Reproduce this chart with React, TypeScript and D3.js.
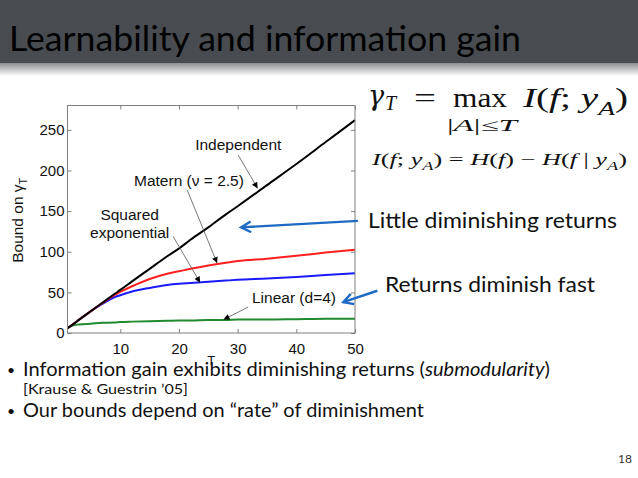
import React, { useRef, useEffect } from 'react';
import * as d3 from 'd3';

// sample points along T (number of rounds)
const T_STEPS = [1, 2, 3, 5, 7, 9, 10, 12, 15, 18, 20, 22, 25, 28, 30, 35, 40, 45, 50];

// bound on gamma_T for each kernel
const INDEPENDENT = [6, 11, 16.5, 27, 37.5, 48, 53, 63.5, 79, 94.5, 104, 115, 130, 146, 156, 182, 208, 235, 262];
const MATERN = [6, 11, 16.5, 27, 37, 46.5, 50.5, 57.5, 66.5, 73, 76, 79, 83, 86.5, 88.5, 91.5, 95, 99, 102.5];
const SQ_EXP = [6, 11, 16.5, 27, 36, 44, 46.5, 51, 55.5, 59, 60.5, 61.5, 63, 64.5, 65.5, 67, 69, 71.5, 73.5];
const LINEAR = [6, 9.5, 10.5, 11.5, 12.5, 13, 13.5, 14, 14.5, 15, 15.5, 15.5, 16, 16, 16.5, 16.5, 17, 17.5, 17.5];

const X_TICKS = [10, 20, 30, 40, 50];
const Y_TICKS = [0, 50, 100, 150, 200, 250];

const SERIES = [
    { name: 'Linear (d=4)', values: LINEAR, color: '#1f8a2e' },
    { name: 'Squared exponential', values: SQ_EXP, color: '#1a1aff' },
    { name: 'Matern (ν = 2.5)', values: MATERN, color: '#ff1f1f' },
    { name: 'Independent', values: INDEPENDENT, color: '#000000' }
];

// text arrows inside the axes, in data units
const ANNOTATIONS = [
    { lines: ['Independent'], at: [30.1, 225], from: [30.1, 219], to: [33.4, 178] },
    { lines: ['Matern (ν = 2.5)'], at: [21.7, 181], from: [21.4, 176], to: [26.5, 86] },
    { lines: ['Squared', 'exponential'], at: [11.6, 139], from: [19, 119], to: [23.6, 62] },
    { lines: ['Linear (d=4)'], at: [39.6, 37], from: [31.8, 32], to: [27.6, 16.5] }
];

const SANS = '"Liberation Sans", Arial, sans-serif';
const SLIDE = 'Lato, "Open Sans", sans-serif';
const SERIF = '"Liberation Serif", "DejaVu Serif", serif';

// parts: [text, flags] where flags has i (italic) and/or s (subscript)
const richText = (g, x, y, size, parts, length?) => {
    const t = g.append('text')
        .attr('x', x)
        .attr('y', y)
        .attr('font-family', SERIF)
        .attr('font-size', size)
        .attr('fill', '#111');
    let shifted = false;
    parts.forEach(([str, flags = '']) => {
        const s = t.append('tspan').text(str);
        if (flags.includes('i')) s.attr('font-style', 'italic');
        const sub = flags.includes('s');
        if (sub) s.attr('font-size', size * 0.7);
        if (sub && !shifted) s.attr('dy', size * 0.28);
        if (!sub && shifted) s.attr('dy', -size * 0.28);
        shifted = sub;
    });
    if (length) t.attr('textLength', length).attr('lengthAdjust', 'spacingAndGlyphs');
    return t;
};

const App = () => {
    const svgRef = useRef<SVGSVGElement>(null);

    useEffect(() => {
        drawSlide();
    }, []);

    const drawSlide = () => {
        const svg = d3.select(svgRef.current);
        svg.selectAll('*').remove();

        const defs = svg.append('defs');
        const grad = defs.append('linearGradient')
            .attr('id', 'shade')
            .attr('x1', 0).attr('y1', 0).attr('x2', 0).attr('y2', 1);
        grad.append('stop').attr('offset', '0%').attr('stop-color', '#8c8f91');
        grad.append('stop').attr('offset', '100%').attr('stop-color', '#ffffff');

        defs.append('marker')
            .attr('id', 'head')
            .attr('viewBox', '0 0 10 10')
            .attr('refX', 10).attr('refY', 5)
            .attr('markerWidth', 9).attr('markerHeight', 6)
            .attr('markerUnits', 'userSpaceOnUse')
            .attr('orient', 'auto')
            .append('path')
            .attr('d', 'M0,0L10,5L0,10z')
            .attr('fill', '#000');

        defs.append('marker')
            .attr('id', 'bluehead')
            .attr('viewBox', '0 0 12 12')
            .attr('refX', 10).attr('refY', 6)
            .attr('markerWidth', 13).attr('markerHeight', 13)
            .attr('markerUnits', 'userSpaceOnUse')
            .attr('orient', 'auto')
            .append('path')
            .attr('d', 'M1,1L10,6L1,11')
            .attr('fill', 'none')
            .attr('stroke', '#1f6bc4')
            .attr('stroke-width', 2.2);

        // title bar
        svg.append('rect').attr('x', 0).attr('y', 0).attr('width', 638).attr('height', 63).attr('fill', '#484c50');
        svg.append('rect').attr('x', 0).attr('y', 63).attr('width', 638).attr('height', 13).attr('fill', 'url(#shade)');
        svg.append('text')
            .attr('x', 9).attr('y', 51)
            .attr('font-family', SLIDE)
            .attr('font-weight', 400)
            .attr('font-size', 35)
            .attr('fill', '#000')
            .attr('textLength', 512)
            .attr('lengthAdjust', 'spacingAndGlyphs')
            .text('Learnability and information gain');

        // axes
        const left = 67.5, right = 355, top = 105.5, bottom = 333;
        const x = d3.scaleLinear().domain([1, 50]).range([left, right]);
        const y = d3.scaleLinear().domain([0, 280]).range([bottom, top]);

        const plot = svg.append('g');
        plot.append('rect')
            .attr('x', left).attr('y', top)
            .attr('width', right - left).attr('height', bottom - top)
            .attr('fill', 'white');

        const styleAxis = (g, labels) => {
            g.select('.domain').remove();
            g.selectAll('line').attr('stroke', '#808080');
            if (!labels) g.selectAll('text').remove();
            g.selectAll('text')
                .attr('font-family', SANS)
                .attr('font-size', 15)
                .attr('fill', '#111');
        };

        plot.append('g')
            .attr('transform', `translate(0,${bottom})`)
            .call(d3.axisBottom(x).tickValues(X_TICKS).tickSize(-4).tickSizeOuter(0).tickPadding(10))
            .call(g => styleAxis(g, true));
        plot.append('g')
            .attr('transform', `translate(0,${top})`)
            .call(d3.axisTop(x).tickValues(X_TICKS).tickSize(-4).tickSizeOuter(0))
            .call(g => styleAxis(g, false));
        plot.append('g')
            .attr('transform', `translate(${left},0)`)
            .call(d3.axisLeft(y).tickValues(Y_TICKS).tickSize(-4).tickSizeOuter(0).tickPadding(3))
            .call(g => styleAxis(g, true));
        plot.append('g')
            .attr('transform', `translate(${right},0)`)
            .call(d3.axisRight(y).tickValues(Y_TICKS).tickSize(-4).tickSizeOuter(0))
            .call(g => styleAxis(g, false));

        const line = d3.line()
            .x((d, i) => x(T_STEPS[i]))
            .y(d => y(d))
            .curve(d3.curveMonotoneX);

        plot.selectAll('path.series')
            .data(SERIES)
            .enter().append('path')
            .attr('class', 'series')
            .attr('d', d => line(d.values))
            .attr('fill', 'none')
            .attr('stroke', d => d.color)
            .attr('stroke-width', 2)
            .attr('stroke-linejoin', 'round');

        plot.append('rect')
            .attr('x', left).attr('y', top)
            .attr('width', right - left).attr('height', bottom - top)
            .attr('fill', 'none')
            .attr('stroke', '#808080')
            .attr('stroke-width', 1);

        // annotations
        ANNOTATIONS.forEach(a => {
            plot.append('line')
                .attr('x1', x(a.from[0])).attr('y1', y(a.from[1]))
                .attr('x2', x(a.to[0])).attr('y2', y(a.to[1]))
                .attr('stroke', '#555')
                .attr('stroke-width', 0.8)
                .attr('marker-end', 'url(#head)');
            const t = plot.append('text')
                .attr('text-anchor', 'middle')
                .attr('font-family', SANS)
                .attr('font-size', 15.5)
                .attr('fill', '#111');
            a.lines.forEach((l, i) => {
                t.append('tspan')
                    .attr('x', x(a.at[0]))
                    .attr('y', y(a.at[1]) + i * 18)
                    .text(l);
            });
        });

        // axis labels
        const yl = svg.append('text')
            .attr('transform', `translate(23,${(top + bottom) / 2 + 1}) rotate(-90)`)
            .attr('text-anchor', 'middle')
            .attr('font-family', SANS)
            .attr('font-size', 15.5)
            .attr('fill', '#111');
        yl.append('tspan').text('Bound on γ');
        yl.append('tspan').attr('font-size', 11).attr('dy', 4).text('T');

        // slide arrows
        const arrows = [
            { from: [50.5, 138], to: [30.6, 130] },
            { from: [53.8, 52], to: [48, 38] }
        ];
        arrows.forEach(a => {
            svg.append('line')
                .attr('x1', x(a.from[0])).attr('y1', y(a.from[1]))
                .attr('x2', x(a.to[0])).attr('y2', y(a.to[1]))
                .attr('stroke', '#1f6bc4')
                .attr('stroke-width', 2.4)
                .attr('marker-end', 'url(#bluehead)');
        });

        svg.append('text')
            .attr('x', 368).attr('y', 228)
            .attr('font-family', SLIDE).attr('font-size', 22).attr('fill', '#111')
            .attr('textLength', 249).attr('lengthAdjust', 'spacingAndGlyphs')
            .text('Little diminishing returns');
        svg.append('text')
            .attr('x', 385).attr('y', 292)
            .attr('font-family', SLIDE).attr('font-size', 22).attr('fill', '#111')
            .attr('textLength', 210).attr('lengthAdjust', 'spacingAndGlyphs')
            .text('Returns diminish fast');

        // formulas
        svg.append('text')
            .attr('x', 368).attr('y', 105)
            .attr('font-family', '"DejaVu Serif", serif')
            .attr('font-style', 'italic')
            .attr('font-size', 27)
            .attr('fill', '#111')
            .text('γ');
        richText(svg, 385, 110, 20, [['T', 'i']]);
        richText(svg, 414, 107, 28, [['=']], 22);
        richText(svg, 453, 107, 28, [['max']], 54);
        richText(svg, 447, 131, 17, [['|'], ['A', 'i'], ['|'], ['≤'], ['T', 'i']], 70);
        richText(svg, 523, 107, 28, [['I', 'i'], ['('], ['f', 'i'], [';'], [' '], ['y', 'i'], ['A', 'is'], [')']], 105);
        richText(svg, 372, 165, 17, [
            ['I', 'i'], ['('], ['f', 'i'], ['; '], ['y', 'i'], ['A', 'is'], [') = '],
            ['H', 'i'], ['('], ['f', 'i'], [') − '], ['H', 'i'], ['('], ['f', 'i'], [' | '],
            ['y', 'i'], ['A', 'is'], [')']
        ], 255);

        // bullets
        const bullet = (yPos, len, build) => {
            svg.append('text')
                .attr('x', 7).attr('y', yPos - 1)
                .attr('font-family', SLIDE).attr('font-size', 14).attr('fill', '#111')
                .text('•');
            const t = svg.append('text')
                .attr('x', 23).attr('y', yPos)
                .attr('font-family', SLIDE).attr('font-size', 19).attr('fill', '#111')
                .attr('textLength', len).attr('lengthAdjust', 'spacingAndGlyphs');
            build(t);
        };
        bullet(376, 527, t => {
            t.append('tspan').text('Information gain exhibits diminishing returns (');
            t.append('tspan').attr('font-style', 'italic').text('submodularity');
            t.append('tspan').text(')');
        });
        svg.append('text')
            .attr('x', 23).attr('y', 394)
            .attr('font-family', SLIDE).attr('font-size', 13.5).attr('fill', '#111')
            .attr('textLength', 165).attr('lengthAdjust', 'spacingAndGlyphs')
            .text('[Krause & Guestrin ’05]');
        bullet(417, 401, t => t.text('Our bounds depend on “rate” of diminishment'));

        // x label sits over the bullet text, as in the slide
        svg.append('text')
            .attr('x', x(25.5)).attr('y', 365)
            .attr('text-anchor', 'middle')
            .attr('font-family', SANS).attr('font-size', 13).attr('fill', '#111')
            .text('T');

        svg.append('text')
            .attr('x', 632).attr('y', 463)
            .attr('text-anchor', 'end')
            .attr('font-family', SLIDE).attr('font-size', 12).attr('fill', '#333')
            .text('18');
    };

    return (
        <svg ref={svgRef} width={638} height={478} style={{ position: 'absolute', left: 0, top: 0, background: '#fff' }}></svg>
    );
};

export default App;
